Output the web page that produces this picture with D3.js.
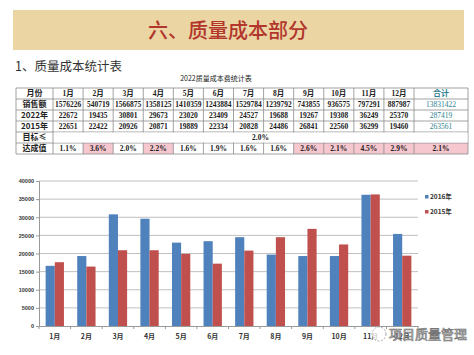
<!DOCTYPE html>
<html>
<head>
<meta charset="utf-8">
<script src="https://cdn.jsdelivr.net/npm/d3@7"></script>
<style>
  body { margin: 0; background: #fff; }
  svg { display: block; }
</style>
</head>
<body>
<svg id="slide" width="474" height="355"></svg>
<script>
// 表のデータ
const months = ['1月','2月','3月','4月','5月','6月','7月','8月','9月','10月','11月','12月'];
const sales = [1576226,540719,1566875,1358125,1410359,1243884,1529784,1239792,743855,936575,797291,887987];
const cost2022 = [22672,19435,30801,29673,23020,23409,24527,19688,19267,19308,36249,25370];
const cost2015 = [22651,22422,20926,20871,19889,22334,20828,24486,26841,22560,36299,19460];
const totals = [13831422, 287419, 263561];
const target = 2.0;
const rates = [1.1,3.6,2.0,2.2,1.6,1.9,1.6,1.6,2.6,2.1,4.5,2.9];
const rateTotal = 2.1;
const rowLabels = ['月份','销售额','2022年','2015年','目标≤','达成值'];

// グラフのデータ
const series2016 = [16600,19300,30800,29600,23000,23400,24500,19700,19300,19300,36200,25400];
const series2015 = [17600,16400,20900,20900,19900,17200,20800,24500,26800,22500,36300,19400];
const yTicks = [0,5000,10000,15000,20000,25000,30000,35000,40000];
const legendNames = ['2016年','2015年'];

const blue = "#4f81bd";
const red = "#c0504d";
const pink = "#f6c7cf";
const teal = "#2e7f8f";
const cjk = "'Noto Sans CJK SC', sans-serif";
const tableFont = "'Liberation Serif', 'Noto Sans CJK SC', serif";

const svg = d3.select("#slide");

// タイトルバー
svg.append("rect")
    .attr("x", 13).attr("y", 10)
    .attr("width", 451).attr("height", 40)
    .attr("fill", "#ead5a3");
svg.append("text")
    .attr("x", 228).attr("y", 38)
    .attr("text-anchor", "middle")
    .attr("font-family", cjk)
    .attr("font-size", 20)
    .attr("font-weight", 500)
    .attr("fill", "#b2362c")
    .text("六、质量成本部分");

svg.append("text")
    .attr("x", 15).attr("y", 71)
    .attr("font-family", cjk)
    .attr("font-size", 12.5)
    .attr("fill", "#333")
    .text("1、质量成本统计表");

svg.append("text")
    .attr("x", 216).attr("y", 81)
    .attr("text-anchor", "middle")
    .attr("font-family", cjk)
    .attr("font-size", 7)
    .attr("fill", "#222")
    .text("2022质量成本费统计表");

// 表
const left = 16, right = 468;
const monthX = d3.scaleBand().domain(months).range([53, 414]);
const rowY = d3.scaleBand().domain(rowLabels).range([88, 154]);
const rh = rowY.bandwidth();
const table = svg.append("g").attr("font-family", tableFont).attr("font-size", 7.5).attr("font-weight", "bold");

// 達成値のピンク背景
const rateCells = months.map((m, i) => ({m, v: rates[i]}));
table.selectAll("rect.pink")
    .data(rateCells.filter(d => d.v > target))
    .join("rect")
    .attr("x", d => monthX(d.m))
    .attr("y", rowY('达成值'))
    .attr("width", monthX.bandwidth())
    .attr("height", rh)
    .attr("fill", pink);
if (rateTotal > target) {
    table.append("rect")
        .attr("x", 414).attr("y", rowY('达成值'))
        .attr("width", right - 414).attr("height", rh)
        .attr("fill", pink);
}

// 罫線
const lineColor = "#8c8c8c";
table.selectAll("line.h")
    .data(rowLabels.map(r => rowY(r)).concat([rowY.range()[1]]))
    .join("line")
    .attr("x1", left).attr("x2", right)
    .attr("y1", d => d).attr("y2", d => d)
    .attr("stroke", lineColor).attr("stroke-width", 0.8);
const colEdges = [left].concat(months.map(m => monthX(m)), [414, right]);
colEdges.forEach(x => {
    table.append("line")
        .attr("x1", x).attr("x2", x)
        .attr("y1", rowY.range()[0])
        .attr("y2", rowY.range()[1])
        .attr("stroke", lineColor).attr("stroke-width", 0.8);
});
// 目標行の結合セル: 内部の縦線を白で隠す
table.append("rect")
    .attr("x", 54).attr("y", rowY('目标≤') + 0.5)
    .attr("width", right - 54.5).attr("height", rh - 1)
    .attr("fill", "#fff");

// 行ラベル
table.selectAll("text.rowlab")
    .data(rowLabels)
    .join("text")
    .attr("x", (left + 53) / 2)
    .attr("y", d => rowY(d) + rh / 2 + 2.7)
    .attr("text-anchor", "middle")
    .attr("font-family", cjk)
    .attr("font-size", 8)
    .attr("fill", "#222")
    .text(d => d);

const cellText = (rowName, values, fmt) => {
    table.selectAll(null)
        .data(values)
        .join("text")
        .attr("x", (d, i) => monthX(months[i]) + monthX.bandwidth() / 2)
        .attr("y", rowY(rowName) + rh / 2 + 2.7)
        .attr("text-anchor", "middle")
        .attr("fill", "#222")
        .text(fmt);
};
cellText('月份', months, d => d);
cellText('销售额', sales, d => d);
cellText('2022年', cost2022, d => d);
cellText('2015年', cost2015, d => d);
cellText('达成值', rates, d => d.toFixed(1) + "%");

// 合計列
const totalX = (414 + right) / 2;
table.append("text")
    .attr("x", totalX).attr("y", rowY('月份') + rh / 2 + 2.7)
    .attr("text-anchor", "middle").attr("font-family", cjk).attr("font-size", 8)
    .attr("fill", teal).text("合计");
['销售额','2022年','2015年'].forEach((r, i) => {
    table.append("text")
        .attr("x", totalX).attr("y", rowY(r) + rh / 2 + 2.7)
        .attr("text-anchor", "middle").attr("fill", teal).attr("font-weight", "normal")
        .text(totals[i]);
});
table.append("text")
    .attr("x", totalX).attr("y", rowY('达成值') + rh / 2 + 2.7)
    .attr("text-anchor", "middle").attr("fill", "#222")
    .text(rateTotal.toFixed(1) + "%");
table.append("text")
    .attr("x", (53 + right) / 2).attr("y", rowY('目标≤') + rh / 2 + 2.7)
    .attr("text-anchor", "middle").attr("fill", "#222")
    .text(target.toFixed(1) + "%");

// 棒グラフ
const chartLeft = 39, chartRight = 418, chartTop = 181, chartBottom = 326;
const x = d3.scaleBand().domain(months).range([chartLeft, chartRight]).paddingInner(0.42).paddingOuter(0.21);
const xSub = d3.scaleBand().domain(legendNames).range([0, x.bandwidth()]);
const y = d3.scaleLinear().domain([0, 40000]).range([chartBottom, chartTop]);

const chart = svg.append("g");
chart.selectAll("line.grid")
    .data(yTicks.filter(d => d > 0))
    .join("line")
    .attr("x1", chartLeft).attr("x2", chartRight)
    .attr("y1", d => y(d)).attr("y2", d => y(d))
    .attr("stroke", "#b0b0b0").attr("stroke-width", 0.8);

const yAxis = d3.axisLeft(y).tickValues(yTicks).tickFormat(d3.format("d")).tickSize(3).tickPadding(2);
const yg = chart.append("g")
    .attr("transform", `translate(${chartLeft},0)`)
    .call(yAxis);
yg.selectAll("text").attr("font-family", "'Liberation Sans', sans-serif").attr("font-size", 5.5).attr("font-weight", "bold").attr("fill", "#333");
yg.selectAll("line").attr("stroke", "#999");
yg.select(".domain").attr("stroke", "#999");

const groups = months.map((m, i) => ({m, vals: [series2016[i], series2015[i]]}));
const colors = [blue, red];
chart.selectAll("g.grp")
    .data(groups)
    .join("g")
    .attr("transform", d => `translate(${x(d.m)},0)`)
    .selectAll("rect")
    .data(d => d.vals.map((v, k) => ({v, k})))
    .join("rect")
    .attr("x", d => xSub(legendNames[d.k]))
    .attr("y", d => y(d.v))
    .attr("width", xSub.bandwidth())
    .attr("height", d => y(0) - y(d.v))
    .attr("fill", d => colors[d.k]);

const xAxis = d3.axisBottom(x).tickSize(0).tickPadding(8);
const xg = chart.append("g")
    .attr("transform", `translate(0,${chartBottom})`)
    .call(xAxis);
xg.select(".domain").attr("stroke", "#999");
xg.selectAll("text").attr("font-family", cjk).attr("font-size", 7).attr("font-weight", "bold").attr("fill", "#333");
// カテゴリ境界の目盛り
xg.selectAll("line.sep")
    .data(months.map(m => x(m) - x.step() * x.paddingInner() / 2).concat([chartRight]))
    .join("line")
    .attr("x1", d => d).attr("x2", d => d)
    .attr("y1", 0).attr("y2", 3)
    .attr("stroke", "#999");

// 凡例
const legend = svg.append("g").attr("transform", "translate(425,199)");
legendNames.forEach((name, i) => {
    const g = legend.append("g").attr("transform", `translate(0,${i * 15})`);
    g.append("rect").attr("x", 0).attr("y", -4).attr("width", 3.5).attr("height", 3.5).attr("fill", colors[i]);
    g.append("text").attr("x", 5).attr("y", 0)
        .attr("font-family", cjk).attr("font-size", 6.5).attr("font-weight", "bold").attr("fill", "#333")
        .text(name);
});

// 透かし
const wm = svg.append("g");
wm.append("circle").attr("cx", 379).attr("cy", 334).attr("r", 7)
    .attr("fill", "#fff").attr("fill-opacity", 0.8).attr("stroke", "#aaa").attr("stroke-dasharray", "2,1.5");
wm.append("text")
    .attr("x", 389).attr("y", 339)
    .attr("font-family", cjk).attr("font-size", 13)
    .attr("fill", "#fff").attr("fill-opacity", 0.85).attr("stroke", "#777").attr("stroke-width", 0.7)
    .text("项目质量管理");
</script>
</body>
</html>
